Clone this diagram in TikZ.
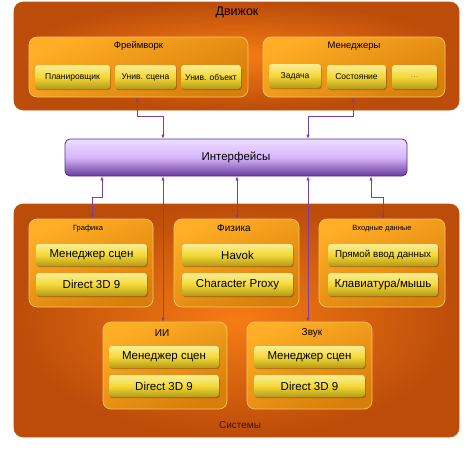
\documentclass[tikz,border=0pt]{standalone}
\usepackage{fontspec}
\setmainfont{Liberation Sans}
\usetikzlibrary{arrows.meta,shadows}
\definecolor{engin}{HTML}{F67C14}
\definecolor{engout}{HTML}{BC4C0A}
\definecolor{engedge}{HTML}{C4520C}
\definecolor{grpin}{HTML}{FFAE26}
\definecolor{grpout}{HTML}{D97E0A}
\definecolor{grpedge}{HTML}{F8C565}
\definecolor{itop}{HTML}{FAEE96}
\definecolor{imid}{HTML}{F4D836}
\definecolor{ibot}{HTML}{B49A18}
\definecolor{ftop}{HTML}{EEDDFF}
\definecolor{fmid}{HTML}{D6B6FA}
\definecolor{fbot}{HTML}{6A3A9C}
\definecolor{fedge}{HTML}{5A2E82}
\definecolor{arrc}{HTML}{7A3FA0}
\definecolor{systxt}{HTML}{4A1000}
\definecolor{dots}{HTML}{B08A20}
\begin{document}
\begin{tikzpicture}[x=1pt,y=-1pt,
  sz/.style 2 args={minimum width=#1pt,minimum height=#2pt},
  outerbox/.style={draw=engedge, line width=0.6pt, rounded corners=9pt, inner color=engin, outer color=engout},
  groupbox/.style={draw=grpedge, line width=0.7pt, rounded corners=8pt, top color=grpin, bottom color=grpout, shading angle=25},
  itembox/.style={rounded corners=3pt, top color=itop, bottom color=ibot, middle color=imid, inner sep=0pt, align=center,
    general shadow={fill=black, opacity=0.25, shadow xshift=0.8pt, shadow yshift=-1.2pt}},
  ifbox/.style={draw=fedge, line width=0.8pt, rounded corners=5pt, top color=ftop, bottom color=fbot, middle color=fmid},
  ttl/.style={inner sep=0pt, text=black},
  arr/.style={draw=arrc, line width=0.8pt, {Latex[length=4pt,width=3.5pt]}-{Latex[length=4pt,width=3.5pt]}}
]
\useasboundingbox (0,0) rectangle (474,450);
\fill[white] (0,0) rectangle (474,450);

% Engine
\node[outerbox, sz={445}{108}] (eng) at (236.5,56) {};
\node[ttl, font=\fontsize{12.5}{14}\selectfont] (engt) at (237,12) {Движок};

\node[groupbox, sz={219}{60}] (fw) at (138.5,67) {};
\node[ttl, font=\fontsize{9.5}{11}\selectfont] (fwt) at (138.5,46) {Фреймворк};
\node[itembox, sz={75}{24}, font=\fontsize{8.5}{10}\selectfont] (plan) at (72.5,77) {Планировщик};
\node[itembox, sz={61}{24}, font=\fontsize{8.5}{10}\selectfont] (scene) at (145.5,77) {Унив. сцена};
\node[itembox, sz={60}{24}, font=\fontsize{8.5}{10}\selectfont] (obj) at (211,77) {Унив. объект};

\node[groupbox, sz={182}{60}] (mgr) at (354,67) {};
\node[ttl, font=\fontsize{9.5}{11}\selectfont] (mgrt) at (354,46) {Менеджеры};
\node[itembox, sz={52}{24}, font=\fontsize{8.5}{10}\selectfont] (task) at (295,76) {Задача};
\node[itembox, sz={59}{24}, font=\fontsize{8.5}{10}\selectfont] (state) at (356.5,77) {Состояние};
\node[itembox, sz={45}{24}, font=\fontsize{9}{10}\selectfont, text=dots] (more) at (414.5,77) {...};

% Interfaces
\node[ifbox, sz={342}{37}, font=\fontsize{11.5}{13}\selectfont] (intf) at (236,157.5) {Интерфейсы};

% Systems
\node[outerbox, sz={445}{233}] (sys) at (236.5,320.5) {};
\node[ttl, text=systxt, font=\fontsize{10}{12}\selectfont] (syst) at (240,425) {Системы};

\node[groupbox, sz={124}{88}] (gfx) at (91,263) {};
\node[ttl, font=\fontsize{7.5}{9}\selectfont] (gfxt) at (88,229) {Графика};
\node[itembox, sz={111}{22}, font=\fontsize{11.5}{13}\selectfont] (gfx1) at (91.5,255) {Менеджер сцен};
\node[itembox, sz={111}{23}, font=\fontsize{11.5}{13}\selectfont] (gfx2) at (91.5,284.5) {Direct 3D 9};

\node[groupbox, sz={125}{88}] (phy) at (236.5,263) {};
\node[ttl, font=\fontsize{10}{12}\selectfont] (phyt) at (234,228) {Физика};
\node[itembox, sz={111}{22}, font=\fontsize{11.5}{13}\selectfont] (phy1) at (237.5,255) {Havok};
\node[itembox, sz={111}{23}, font=\fontsize{11.5}{13}\selectfont] (phy2) at (237.5,284.5) {Character Proxy};

\node[groupbox, sz={126}{88}] (inp) at (382,263) {};
\node[ttl, font=\fontsize{7.5}{9}\selectfont] (inpt) at (382,229) {Входные данные};
\node[itembox, sz={110}{22}, font=\fontsize{9.8}{12}\selectfont] (inp1) at (383,255) {Прямой ввод данных};
\node[itembox, sz={110}{23}, font=\fontsize{11.5}{13}\selectfont] (inp2) at (383,284.5) {Клавиатура/мышь};

\node[groupbox, sz={124}{87}] (ai) at (165,365.5) {};
\node[ttl, font=\fontsize{10}{12}\selectfont] (ait) at (162,333) {ИИ};
\node[itembox, sz={110}{22}, font=\fontsize{11.5}{13}\selectfont] (ai1) at (164,357) {Менеджер сцен};
\node[itembox, sz={110}{22}, font=\fontsize{11.5}{13}\selectfont] (ai2) at (164,386) {Direct 3D 9};

\node[groupbox, sz={125}{87}] (snd) at (309.5,365.5) {};
\node[ttl, font=\fontsize{10}{12}\selectfont] (sndt) at (312,333) {Звук};
\node[itembox, sz={111}{22}, font=\fontsize{11.5}{13}\selectfont] (snd1) at (309.5,357) {Менеджер сцен};
\node[itembox, sz={111}{22}, font=\fontsize{11.5}{13}\selectfont] (snd2) at (309.5,386) {Direct 3D 9};

% Connectors
\coordinate (t1) at (137,116);
\coordinate (t1b) at (163,116);
\draw[arr] (t1 |- fw.south) -- (t1) -- (t1b) -- (t1b |- intf.north);
\coordinate (t2) at (353,116);
\coordinate (t2b) at (308,116);
\draw[arr] (t2 |- mgr.south) -- (t2) -- (t2b) -- (t2b |- intf.north);

\coordinate (b1) at (102,197);
\coordinate (b1b) at (92,197);
\draw[arr] (b1 |- intf.south) -- (b1) -- (b1b) -- (b1b |- gfx.north);
\coordinate (b2) at (163,200);
\draw[arr] (b2 |- intf.south) -- (b2 |- ai.north);
\coordinate (b3) at (237,200);
\draw[arr] (b3 |- intf.south) -- (b3 |- phy.north);
\coordinate (b4) at (308,200);
\draw[arr] (b4 |- intf.south) -- (b4 |- snd.north);
\coordinate (b5) at (371,197);
\coordinate (b5b) at (383,197);
\draw[arr] (b5 |- intf.south) -- (b5) -- (b5b) -- (b5b |- inp.north);
\end{tikzpicture}
\end{document}
